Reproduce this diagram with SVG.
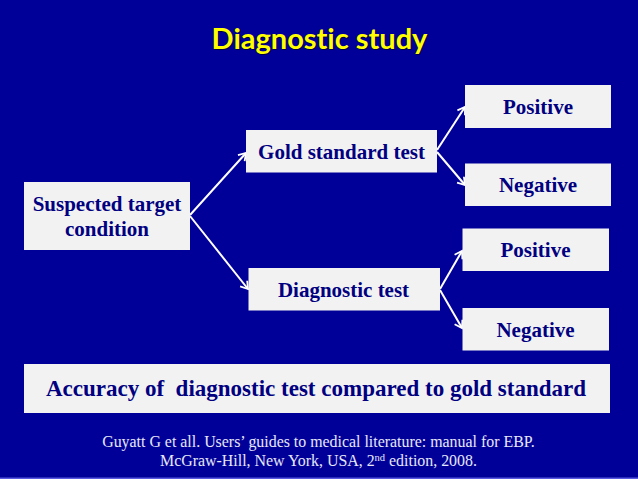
<svg xmlns="http://www.w3.org/2000/svg" width="638" height="479" viewBox="0 0 638 479">
<style>
.box{fill:#f2f2f2}
.t{font-family:"Liberation Serif","Times New Roman",serif;font-weight:bold;font-size:21px;fill:#000080;text-anchor:middle}
.c{font-family:"Liberation Serif","Times New Roman",serif;font-size:15.900px;fill:#e8e8f8;text-anchor:middle}
.l{fill:none;stroke:#fff;stroke-width:2}
.h{font-family:Lato,"Open Sans",sans-serif;font-weight:bold;font-size:29px;text-anchor:middle;font-variant-ligatures:none}
</style>
<defs>
<marker id="a" markerUnits="userSpaceOnUse" markerWidth="12" markerHeight="12" refX="9" refY="6" orient="auto"><path d="M2 1.500L9 6L2 10.500" fill="none" stroke="#fff" stroke-width="1.800"/></marker>
</defs>
<rect width="638" height="479" fill="#000099"/>
<rect y="477.500" width="638" height="1.500" fill="#5a5ae0"/>
<g id="title"><text class="h" x="320.500" y="50" fill="#000" opacity=".6">Diagnostic study</text><text class="h" x="319.500" y="49" fill="#ffff00">Diagnostic study</text></g>
<g id="connectors">
<line class="l" x1="190" y1="215" x2="246" y2="153" marker-end="url(#a)"/>
<line class="l" x1="190" y1="216" x2="248" y2="289" marker-end="url(#a)"/>
<line class="l" x1="437" y1="150" x2="465" y2="107" marker-end="url(#a)"/>
<line class="l" x1="437" y1="152" x2="465" y2="185" marker-end="url(#a)"/>
<line class="l" x1="440" y1="289" x2="462" y2="251" marker-end="url(#a)"/>
<line class="l" x1="440" y1="290" x2="462" y2="328" marker-end="url(#a)"/>
</g>
<g id="suspected"><rect class="box" x="24" y="182" width="166" height="68"/><text class="t" x="107" y="211">Suspected target</text><text class="t" x="107" y="236">condition</text></g>
<g id="gold"><rect class="box" x="246" y="130" width="191" height="42.500"/><text class="t" x="341.500" y="159">Gold standard test</text></g>
<g id="diagnostic"><rect class="box" x="248.500" y="268" width="191.500" height="42.500"/><text class="t" x="343.500" y="297">Diagnostic test</text></g>
<g id="pos1"><rect class="box" x="465" y="85" width="146" height="43"/><text class="t" x="538" y="114">Positive</text></g>
<g id="neg1"><rect class="box" x="465" y="163.500" width="146" height="42.500"/><text class="t" x="538" y="192">Negative</text></g>
<g id="pos2"><rect class="box" x="462.500" y="228.500" width="146.500" height="42.500"/><text class="t" x="535.500" y="257">Positive</text></g>
<g id="neg2"><rect class="box" x="462.500" y="308" width="146.500" height="42.500"/><text class="t" x="535.500" y="337">Negative</text></g>
<g id="accuracy"><rect class="box" x="24" y="364" width="586" height="49"/><text class="t" x="316" y="396" style="font-size:23px" xml:space="preserve">Accuracy of  diagnostic test compared to gold standard</text></g>
<g id="citation"><text class="c" x="318.500" y="447">Guyatt G et all. Users’ guides to medical literature: manual for EBP.</text><text class="c" x="318.500" y="466">McGraw-Hill, New York, USA, 2<tspan font-size="10.500" dy="-5">nd</tspan><tspan dy="5"> edition, 2008.</tspan></text></g>
</svg>
